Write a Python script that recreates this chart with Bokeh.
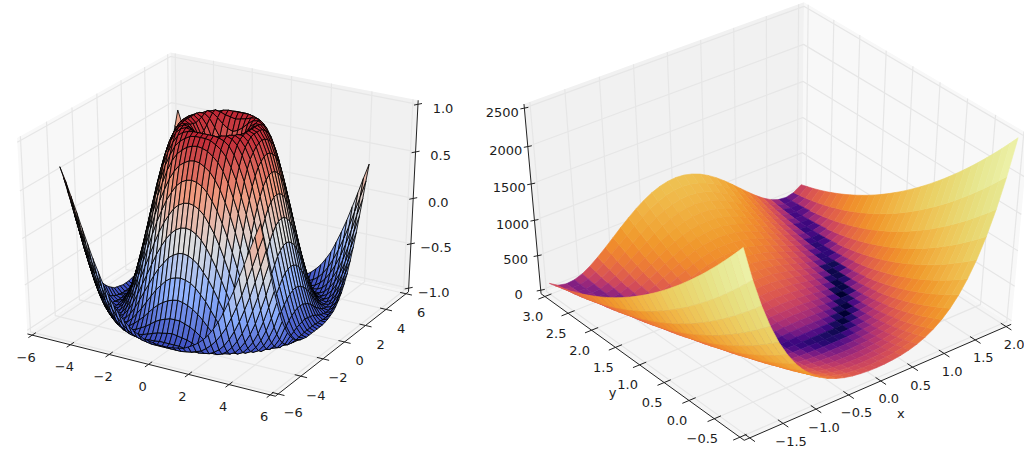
import numpy as np
from bokeh.plotting import figure
from bokeh.models import Range1d
from bokeh.core.properties import value
from bokeh.embed import file_html
from bokeh.resources import INLINE
from bokeh.palettes import Inferno256

# ---------- left surface: heights read on a 0.25 grid, one octant (|x| index i >= |y| index j)
left_step = 0.25
left_octant = [
 [0.00],
 [.25,.35],
 [.48,.53,.65],
 [.68,.71,.78,.87],
 [.84,.86,.90,.95,.99],
 [.95,.96,.97,.99,1.00,.98],
 [1.00,1.00,1.00,.99,.97,.93,.85],
 [.98,.98,.97,.94,.90,.84,.74,.62],
 [.91,.90,.88,.84,.79,.71,.60,.46,.31],
 [.78,.77,.74,.70,.63,.54,.42,.29,.13,-.04],
 [.60,.59,.56,.51,.43,.34,.22,.09,-.06,-.22,-.38],
 [.38,.37,.34,.29,.21,.12,.01,-.12,-.26,-.40,-.54,-.68],
 [.14,.13,.10,.05,-.02,-.11,-.21,-.33,-.45,-.57,-.69,-.80,-.89],
 [-.11,-.12,-.15,-.19,-.26,-.33,-.42,-.52,-.62,-.72,-.82,-.90,-.96,-.99],
 [-.35,-.36,-.38,-.42,-.48,-.54,-.62,-.70,-.78,-.85,-.92,-.97,-.99,-1.00,-.97],
 [-.57,-.58,-.60,-.63,-.67,-.72,-.78,-.84,-.89,-.94,-.98,-1.00,-1.00,-.97,-.91,-.83],
 [-.76,-.76,-.78,-.80,-.83,-.87,-.91,-.94,-.97,-.99,-1.00,-.99,-.96,-.90,-.82,-.72,-.59],
 [-.89,-.90,-.91,-.92,-.94,-.96,-.98,-.99,-1.00,-1.00,-.98,-.94,-.88,-.80,-.70,-.58,-.43,-.27],
 [-.98,-.98,-.98,-.99,-.99,-1.00,-1.00,-.99,-.98,-.95,-.91,-.85,-.77,-.67,-.55,-.41,-.26,-.09,.08],
 [-1.00,-1.00,-1.00,-1.00,-.99,-.98,-.96,-.94,-.90,-.85,-.79,-.71,-.62,-.50,-.37,-.23,-.07,.09,.26,.42],
 [-.96,-.96,-.95,-.94,-.93,-.90,-.87,-.83,-.78,-.72,-.64,-.55,-.44,-.31,-.18,-.03,.12,.28,.43,.58,.71],
]
left_ticks_xy = [-6, -4, -2, 0, 2, 4, 6]
left_ticks_z = [-1.0, -0.5, 0.0, 0.5, 1.0]
left_labels_z = ["\u22121.0", "\u22120.5", "0.0", "0.5", "1.0"]

# ---------- right surface: heights read per x row; right_z at y = -1, -.75, ...; right_z_between at the y midway
right_x = [-2,-1.875,-1.75,-1.625,-1.5,-1.375,-1.25,-1.125,-1,-.875,-.75,-.625,-.5,-.375,-.25,-.125,0,
           .125,.25,.375,.5,.625,.75,.875,1,1.125,1.25,1.375,1.5,1.625,1.75,1.875,2]
right_y = [-1,-.875,-.75,-.625,-.5,-.375,-.25,-.125,0,.125,.25,.375,.5,.625,.75,.875,1,1.125,1.25,1.375,1.5,
           1.625,1.75,1.875,2,2.125,2.25,2.375,2.5,2.625,2.75,2.875,3]
right_z = [
 [2509,2265,2034,1815,1609,1415,1234,1065,909,765,634,515,409,315,234,165,109],
 [2047,1828,1621,1426,1244,1075,917,773,641,521,414,320,238,168,111,67,35],
 [1658,1462,1277,1105,946,799,665,543,433,337,252,180,121,74,40,17,8],
 [1332,1157,993,843,704,579,465,364,276,200,137,86,48,22,9,8,20],
 [1062,906,762,631,512,406,312,231,162,106,62,31,12.5,6.2,12.5,31,62],
 [842,703,578,464,363,275,199,136,85,47,21,7.6,6.8,19,43,80,129],
 [662,540,430,334,249,177,118,71,37,15,5.5,8.6,24,52,93,146,212],
 [518,411,316,234,165,108,63,31,11.6,4.5,10,28,58,101,157,225,305],
 [404,310,229,160,104,60,29,10,4,10,29,60,104,160,229,310,404],
 [315,233,164,107,62,30,10.6,3.5,9,27,57,100,156,224,304,397,503],
 [247,175,116,69,35,12.8,3.4,6.6,22,50,91,144,210,288,378,482,597],
 [196,133,82,44,18,4.6,3.8,16,40,77,126,188,262,349,448,560,684],
 [158,102,58,27,8.5,2.2,8.5,27,58,102,158,227,308,402,508,627,758],
 [132,81,43,17,3.9,3.1,15,39,76,125,187,261,348,447,559,683,820],
 [115,68,33,11.3,2,5.1,21,49,89,143,208,286,377,480,596,724,864],
 [104,60,28,8.3,1.3,6.8,25,55,98,154,221,302,395,500,618,749,892],
 [101,57,26,7.2,1,7.2,26,57,101,157,226,307,401,507,626,757,901],
 [104,60,27,7.8,.8,6.3,24,55,98,153,221,302,394,500,618,748,891],
 [114,67,32,10.3,.95,4.1,20,48,88,142,207,285,376,479,595,723,863],
 [130,79,41,15,2.4,1.6,13,37,74,123,185,259,346,445,557,681,818],
 [156,100,56,25,6.5,.25,6.5,25,56,100,156,225,306,400,506,625,756],
 [193,130,79,41,15,2.1,1.3,13,37,74,123,185,259,346,445,557,681],
 [244,172,113,66,32,9.8,.45,3.6,19,47,88,141,207,285,375,479,594],
 [312,230,160,103,59,27,7.1,.04,5.5,23,54,97,152,220,301,394,499],
 [400,306,225,156,100,56,25,6.2,.05,6.2,25,56,100,156,225,306,400],
 [513,406,312,230,160,103,59,27,7.1,.04,5.5,23,54,97,152,220,301],
 [657,535,425,329,244,172,113,66,32,9.8,.45,3.6,19,47,88,141,207],
 [836,697,572,458,357,269,193,130,79,41,15,2.1,1.3,13,37,74,123],
 [1056,900,756,625,506,400,306,225,156,100,56,25,6.5,.25,6.5,25,56],
 [1326,1150,986,836,697,572,458,357,269,193,130,79,41,15,2.4,1.6,13],
 [1651,1455,1270,1098,939,792,658,536,426,330,245,173,114,67,33,10,1],
 [2040,1821,1614,1419,1237,1068,910,766,634,514,407,313,231,161,104,60,28],
 [2501,2257,2026,1807,1601,1407,1226,1057,901,757,626,507,401,307,226,157,101],
]
right_z_between = [
 [2386,2148,1923,1711,1511,1323,1148,986,836,698,573,461,361,273,198,136],
 [1936,1723,1522,1334,1158,994,844,705,580,466,366,277,201,138,87,49],
 [1558,1368,1190,1024,871,730,602,487,383,293,215,149,96,55,27,11],
 [1243,1074,916,772,640,520,413,319,237,167,110,66,34,14,6.9,12.4],
 [983,833,695,570,458,358,270,195,133,83,45,20,7.8,7.8,20,45],
 [771,639,519,412,318,236,166,109,65,33,12.7,5.7,11,29,60,103],
 [599,484,380,290,212,146,93,52,24,8.6,5.5,14.8,37,71,118,177],
 [463,362,274,198,135,84,46,20,6.5,5.7,18,42,78,128,190,264],
 [356,268,193,131,81,43,18,5.6,5.6,18,43,81,131,193,268,356],
 [273,197,134,83,45,19,5.5,4.7,16.5,41,77,127,188,263,349,449],
 [210,144,91,50,22,6.6,3.5,12.8,35,69,116,175,247,332,428,538],
 [163,106,62,29,9.7,2.7,8.1,26,57,100,155,223,304,397,502,620],
 [129,79,41,16,3.8,3.8,16,41,79,129,191,266,354,454,566,691],
 [105,61,29,9,1.9,7.4,25,56,99,154,222,303,396,501,619,750],
 [90,49,21,5.1,2,11.4,33,68,115,174,246,331,427,537,659,793],
 [80,42,17,3.3,2.5,14,38,75,124,186,260,347,446,558,682,819],
 [78,40,15,2.6,2.6,15,40,78,128,190,265,353,453,565,690,828],
 [80,42,16,2.8,2,14,38,75,124,186,260,347,446,558,682,819],
 [89,48,20,4.1,.95,10.4,32,67,114,173,245,330,426,536,657,792],
 [104,59,27,7.4,.41,5.9,24,54,97,152,220,301,394,499,617,748],
 [127,77,39,14,1.8,1.8,14,39,77,127,189,264,352,452,564,689],
 [160,103,59,27,7.2,.16,5.6,24,54,97,152,220,301,394,499,617],
 [207,141,88,47,19,3.6,.45,9.8,32,66,113,172,244,329,425,535],
 [269,193,130,79,41,15,2,1.2,13,37,74,123,185,259,346,445],
 [352,264,189,127,77,39,14,1.6,1.6,14,39,77,127,189,264,352],
 [458,358,269,193,130,79,41,15,2,1.2,13,37,74,123,185,259],
 [594,479,375,285,207,141,88,47,19,3.6,.45,9.8,32,66,113,172],
 [765,633,513,406,312,230,160,103,59,27,7.2,.16,5.6,24,54,97],
 [977,827,689,564,452,352,264,189,127,77,39,14,1.8,1.8,14,39],
 [1236,1067,909,765,633,513,406,312,230,160,103,59,27,7.4,.41,5.9],
 [1551,1361,1182,1016,863,723,595,479,376,285,207,142,88,48,20,4.1],
 [1929,1716,1515,1327,1151,987,837,698,573,459,359,270,194,131,80,42],
 [2378,2140,1915,1703,1503,1315,1140,978,828,690,565,453,353,265,190,128],
]
right_ticks_x = [-2.0,-1.5,-1.0,-0.5,0.0,0.5,1.0,1.5,2.0]
right_ticks_y = [-1.0,-0.5,0.0,0.5,1.0,1.5,2.0,2.5,3.0]
right_ticks_z = [0, 500, 1000, 1500, 2000, 2500]
fmt = lambda v: f"{v:.1f}".replace("-", "\u2212")

COOL = np.array([[59,76,192],[141,176,254],[221,221,221],[240,150,122],[190,35,50]], float)
def coolwarm(t):
    t = min(max(t, 0), 1) * 4
    k = min(int(t), 3)
    c = COOL[k] + (COOL[k+1] - COOL[k]) * (t - k)
    return "#%02x%02x%02x" % tuple(int(round(v)) for v in c)

def inferno(t):
    h = Inferno256[int(min(max(t, 0), 1) * 255)]
    r, g, b = int(h[1:3], 16), int(h[3:5], 16), int(h[5:7], 16)
    return "#%02x%02x%02x" % (int(r*0.96), int(g*0.96), int(b*0.85 + 40))

class View:
    """Perspective view as mplot3d makes it; screen scale fitted on measured corner pixels."""
    def __init__(self, lims, elevs, azims, anchors):
        self.lo = np.array([l[0] for l in lims], float)
        self.hi = np.array([l[1] for l in lims], float)
        pts = np.array([a[:3] for a in anchors], float)
        pix = np.array([a[3:] for a in anchors], float)
        best = None
        for el in elevs:
            for az in azims:
                self.setup(el, az)
                xs, ys, _ = self.raw(pts)
                A = np.c_[xs, np.ones(len(xs))]
                B = np.c_[ys, np.ones(len(ys))]
                cx, rx, *_ = np.linalg.lstsq(A, pix[:, 0], rcond=None)
                cy, ry, *_ = np.linalg.lstsq(B, pix[:, 1], rcond=None)
                err = float(np.sum(rx) + np.sum(ry))
                if best is None or err < best[0]:
                    best = (err, el, az, cx, cy)
        self.setup(best[1], best[2])
        self.cx, self.cy = best[3], best[4]
    def setup(self, el, az, dist=10.0):
        el, az = np.radians(el), np.radians(az)
        R = np.array([.5, .5, .5])
        self.eye = R + dist * np.array([np.cos(el)*np.cos(az), np.cos(el)*np.sin(az), np.sin(el)])
        n = (self.eye - R) / np.linalg.norm(self.eye - R)
        u = np.cross([0, 0, 1.0], n); u /= np.linalg.norm(u)
        self.n, self.u, self.v = n, u, np.cross(n, u)
    def raw(self, p):
        d = (np.asarray(p, float) - self.lo) / (self.hi - self.lo) - self.eye
        zv = d @ self.n
        return (d @ self.u) / -zv, (d @ self.v) / -zv, zv
    def __call__(self, p):
        xs, ys, zv = self.raw(p)
        return self.cx[0]*xs + self.cx[1], self.cy[0]*ys + self.cy[1], zv

def seg(view, pts):
    x, y, _ = view(np.array(pts, float))
    return list(x), list(y)

p = figure(width=1024, height=449, output_backend="svg", toolbar_location=None,
           x_range=Range1d(0, 1024), y_range=Range1d(449, 0), min_border=0)
p.axis.visible = False
p.grid.visible = False
p.outline_line_color = None
FONT = value("DejaVu Sans")

def draw_box(view, xl, yl, zl, xt, yt, zt, fx, fy, nx, ny):
    (x0, x1), (y0, y1), (z0, z1) = xl, yl, zl
    panes = [([(fx,y0,z0),(fx,y1,z0),(fx,y1,z1),(fx,y0,z1)], "#f8f8f8"),
             ([(x0,fy,z0),(x1,fy,z0),(x1,fy,z1),(x0,fy,z1)], "#f1f1f1"),
             ([(x0,y0,z0),(x1,y0,z0),(x1,y1,z0),(x0,y1,z0)], "#f5f5f5")]
    for q, c in panes:
        x, y = seg(view, q)
        p.patch(x, y, fill_color=c, line_color=None)
    gx, gy = [], []
    for t in xt:
        a, b = seg(view, [(t,ny,z0),(t,fy,z0),(t,fy,z1)]); gx.append(a); gy.append(b)
    for t in yt:
        a, b = seg(view, [(nx,t,z0),(fx,t,z0),(fx,t,z1)]); gx.append(a); gy.append(b)
    for t in zt:
        a, b = seg(view, [(nx,fy,t),(fx,fy,t),(fx,ny,t)]); gx.append(a); gy.append(b)
    p.multi_line(gx, gy, line_color="#e6e6e6", line_width=1.2)

def draw_axes(view, xl, yl, zl, xt, yt, zt, nx, ny, zx, zy, xlab, ylab, zlab, ox, oy, oz, tx, ty):
    (x0, x1), (y0, y1), (z0, z1) = xl, yl, zl
    ax, ay = [], []
    for q in ([(x0,ny,z0),(x1,ny,z0)], [(nx,y0,z0),(nx,y1,z0)], [(zx,zy,z0),(zx,zy,z1)]):
        a, b = seg(view, q); ax.append(a); ay.append(b)
    for t in xt:
        a, b = seg(view, [(t,ny-ty,z0),(t,ny+ty,z0)]); ax.append(a); ay.append(b)
    for t in yt:
        a, b = seg(view, [(nx-tx,t,z0),(nx+tx,t,z0)]); ax.append(a); ay.append(b)
    tl = []
    for t in zt:
        a, b = seg(view, [(zx,zy,t)]); ax.append([a[0]-4, a[0]+4]); ay.append([b[0]+0.8, b[0]-0.8]); tl.append((a[0], b[0]))
    p.multi_line(ax, ay, line_color="#222222", line_width=1)
    tx_, ty_, tt = [], [], []
    for t, s in zip(xt, xlab):
        if s:
            a, b = seg(view, [(t,ny,z0)]); tx_.append(a[0]+ox[0]); ty_.append(b[0]+ox[1]); tt.append(s)
    for t, s in zip(yt, ylab):
        if s:
            a, b = seg(view, [(nx,t,z0)]); tx_.append(a[0]+oy[0]); ty_.append(b[0]+oy[1]); tt.append(s)
    for (a, b), s in zip(tl, zlab):
        tx_.append(a+oz[0]); ty_.append(b+oz[1]); tt.append(s)
    return tx_, ty_, tt

# ---------- left panel
L = (-6, 6)
ZL = (-1, 1)
pad = 12/48; zpad = 2/48
lv = View([L, L, ZL], np.arange(24, 37, 0.5), np.arange(-68, -51, 0.5), [
    (-6,-6-pad,-1-zpad,30,333), (6,-6-pad,-1-zpad,269,395), (6+pad,-6,-1-zpad,277,395), (6+pad,6,-1-zpad,407,292),
    (6+pad,6+pad,-1,408,288), (6+pad,6+pad,1,417,103), (-6-pad,6+pad,1+zpad,170,53), (-6-pad,-6-pad,1+zpad,19,138),
    (-5,-5,.71,59,167), (4.75,4.75,.41,369,163), (-5,4.75,.58,177,110)])
xl = (-6-pad, 6+pad); zl = (-1-zpad, 1+zpad)
draw_box(lv, xl, xl, zl, left_ticks_xy, left_ticks_xy, left_ticks_z, xl[0], xl[1], xl[1], xl[0])

idx = list(range(-20, 20))
lg = np.array([[left_octant[max(abs(i), abs(j))][min(abs(i), abs(j))] for j in idx] for i in idx])
coords = np.array(idx) * left_step
quads = []
for i in range(len(idx)-1):
    for j in range(len(idx)-1):
        q = [(coords[i],coords[j],lg[i,j]), (coords[i+1],coords[j],lg[i+1,j]),
             (coords[i+1],coords[j+1],lg[i+1,j+1]), (coords[i],coords[j+1],lg[i,j+1])]
        x, y, zv = lv(np.array(q))
        quads.append((zv.mean(), list(x), list(y), coolwarm((np.mean([c[2] for c in q]) + 1) / 2)))
quads.sort(key=lambda s: s[0])
p.patches([s[1] for s in quads], [s[2] for s in quads], fill_color=[s[3] for s in quads],
          line_color="#000000", line_width=0.9, line_alpha=0.95)

lab = draw_axes(lv, xl, xl, zl, left_ticks_xy, left_ticks_xy, left_ticks_z, xl[1], xl[0], xl[1], xl[1],
                [fmt(t)[:-2] for t in left_ticks_xy], [fmt(t)[:-2] for t in left_ticks_xy], left_labels_z,
                (-6, 22), (15, 19), (25, 4), 0.3, 0.3)
p.text(lab[0], lab[1], text=lab[2], text_font=FONT, text_font_size="13px", text_color="#1c1c1c",
       text_align="center", text_baseline="middle")

# ---------- right panel
RX = (-2, 2); RY = (-1, 3); RZ = (0, 2500)
rp = 4/48; rzp = 2500/48
rv = View([RX, RY, RZ], range(30, 66), range(-165, -104), [
    (-2,-1-rp,-rzp,747,438), (-1.5,-1-rp,-rzp,783,423), (2,-1-rp,-rzp,1007,325), (-2-rp,-1,-rzp,738.5,437),
    (-2-rp,-.5,-rzp,714,418), (-2-rp,3,-rzp,542,295), (-2-rp,3+rp,0,540,290), (-2-rp,3+rp,2500,523,105),
    (2+rp,3+rp,2500+rzp,807,3), (2,-1,2509,1016,138), (-2,3,109,553,284), (-2,-1,2509,742,247), (2,3,101,800,184)])
xr = (-2-rp, 2+rp); yr = (-1-rp, 3+rp); zr = (-rzp, 2500+rzp)
draw_box(rv, xr, yr, zr, right_ticks_x, right_ticks_y, right_ticks_z, xr[1], yr[1], xr[0], yr[0])

rz = np.empty((len(right_x), len(right_y)))
rz[:, 0::2] = np.array(right_z, float)
rz[:, 1::2] = np.array(right_z_between, float)
rz = np.maximum(rz, 0.02)
lz = np.log(rz)
lo, hi = np.log(0.5), np.log(2500.0)
quads = []
for i in range(len(right_x)-1):
    for j in range(len(right_y)-1):
        q = [(right_x[i],right_y[j],rz[i,j]), (right_x[i+1],right_y[j],rz[i+1,j]),
             (right_x[i+1],right_y[j+1],rz[i+1,j+1]), (right_x[i],right_y[j+1],rz[i,j+1])]
        x, y, zv = rv(np.array(q))
        t = (np.mean([lz[i,j],lz[i+1,j],lz[i+1,j+1],lz[i,j+1]]) - lo) / (hi - lo)
        c = inferno(t)
        quads.append((zv.mean(), list(x), list(y), c))
quads.sort(key=lambda s: s[0])
p.patches([s[1] for s in quads], [s[2] for s in quads], fill_color=[s[3] for s in quads],
          line_color=[s[3] for s in quads], line_width=0.6)

xlabs = [""] + [fmt(t) for t in right_ticks_x[1:]]
ylabs = [""] + [fmt(t) for t in right_ticks_y[1:]]
lab = draw_axes(rv, xr, yr, zr, right_ticks_x, right_ticks_y, right_ticks_z, xr[0], yr[0], xr[0], yr[1],
                xlabs, ylabs, [str(t) for t in right_ticks_z], (8, 18), (-12, 20), (-22, 4), 0.1, 0.1)
a, b = seg(rv, [(0, yr[0], zr[0])]); lab[0].append(a[0]+20); lab[1].append(b[0]+33); lab[2].append("x")
a, b = seg(rv, [(xr[0], 1, zr[0])]); lab[0].append(a[0]-27); lab[1].append(b[0]+28); lab[2].append("y")
p.text(lab[0], lab[1], text=lab[2], text_font=FONT, text_font_size="13px", text_color="#1c1c1c",
       text_align="center", text_baseline="middle")

open("out.html", "w").write(file_html(p, INLINE))
